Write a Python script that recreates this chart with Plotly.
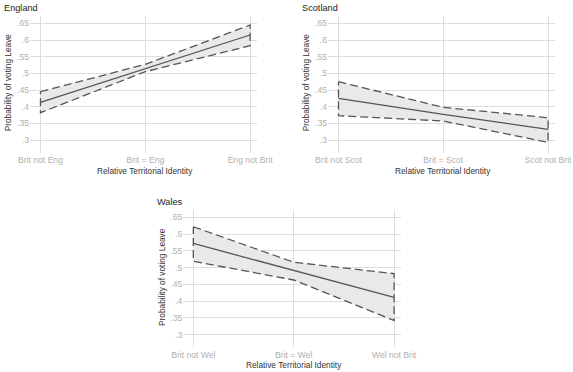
import plotly.graph_objects as go

# ---- data ----
eng_cats = ["Brit not Eng", "Brit = Eng", "Eng not Brit"]
eng_mean = [0.413, 0.515, 0.615]
eng_upper = [0.445, 0.527, 0.645]
eng_lower = [0.382, 0.505, 0.583]

sco_cats = ["Brit not Scot", "Brit = Scot", "Scot not Brit"]
sco_mean = [0.425, 0.377, 0.332]
sco_upper = [0.475, 0.398, 0.367]
sco_lower = [0.373, 0.357, 0.293]

wal_cats = ["Brit not Wel", "Brit = Wel", "Wel not Brit"]
wal_mean = [0.572, 0.492, 0.411]
wal_upper = [0.622, 0.516, 0.482]
wal_lower = [0.519, 0.463, 0.342]

y_tickvals = [0.3, 0.35, 0.4, 0.45, 0.5, 0.55, 0.6, 0.65]
y_ticktext = [".3", ".35", ".4", ".45", ".5", ".55", ".6", ".65"]

panel_titles = ["England", "Scotland", "Wales"]
x_title = "Relative Territorial Identity"
y_title = "Probability of voting Leave"

FONT = "Liberation Sans, Arial, Helvetica, sans-serif"
W, H = 573, 372

panels = [
    dict(cats=eng_cats, mean=eng_mean, up=eng_upper, lo=eng_lower,
         x0=30, x1=257, y0=16, y1=152.7),
    dict(cats=sco_cats, mean=sco_mean, up=sco_upper, lo=sco_lower,
         x0=328, x1=555, y0=16, y1=152.7),
    dict(cats=wal_cats, mean=wal_mean, up=wal_upper, lo=wal_lower,
         x0=183.3, x1=400.7, y0=210, y1=347.3),
]

fig = go.Figure()
layout = dict(
    template="none",
    width=W, height=H, margin=dict(l=0, r=0, t=0, b=0, pad=0),
    paper_bgcolor="white", plot_bgcolor="white", showlegend=False,
    font=dict(family=FONT),
)
annotations = []

for i, p in enumerate(panels):
    sfx = "" if i == 0 else str(i + 1)
    xa, ya = "x" + sfx, "y" + sfx
    xs = list(range(len(p["cats"])))
    # CI band outline (closed, dashed) with fill
    bx = xs + xs[::-1] + [xs[0]]
    by = p["up"] + p["lo"][::-1] + [p["up"][0]]
    fig.add_trace(go.Scatter(
        x=bx, y=by, xaxis=xa, yaxis=ya, mode="lines", fill="toself",
        fillcolor="#e9e9e9",
        line=dict(color="#555555", width=1.3, dash="8px,4px"),
        hoverinfo="skip"))
    fig.add_trace(go.Scatter(
        x=xs, y=p["mean"], xaxis=xa, yaxis=ya, mode="lines",
        line=dict(color="#555555", width=1.3)))

    dx = [p["x0"] / W, p["x1"] / W]
    dy = [1 - p["y1"] / H, 1 - p["y0"] / H]
    layout["xaxis" + sfx] = dict(
        domain=dx, range=[-0.1, 2.066], anchor=ya, automargin=False,
        tickvals=xs, ticktext=p["cats"], showgrid=True,
        gridcolor="#dddddd", gridwidth=1, zeroline=False, showline=False,
        ticks="", ticklen=0, ticklabeloverflow="allow", ticklabelstandoff=1,
        tickfont=dict(size=8.6, color="#b0b0b0", family=FONT),
        fixedrange=True)
    layout["yaxis" + sfx] = dict(
        domain=dy, range=[0.262, 0.672], anchor=xa, automargin=False,
        tickvals=y_tickvals, ticktext=y_ticktext, showgrid=True,
        gridcolor="#dddddd", gridwidth=1, zeroline=False, showline=False,
        ticks="", ticklen=0, ticklabeloverflow="allow",
        tickfont=dict(size=8.6, color="#b0b0b0", family=FONT),
        fixedrange=True)

    # panel title
    annotations.append(dict(
        text=panel_titles[i], xref="paper", yref="paper",
        x=(p["x0"] - 28) / W, y=1 - (p["y0"] - 8) / H,
        xanchor="left", yanchor="middle", showarrow=False,
        font=dict(size=9.2, color="#222222", family=FONT)))
    # x title
    annotations.append(dict(
        text=x_title, xref="paper", yref="paper",
        x=(p["x0"] + 10 + (p["x1"] - 7 - p["x0"] - 10) / 2) / W,
        y=1 - (p["y1"] + 18) / H,
        xanchor="center", yanchor="middle", showarrow=False,
        font=dict(size=8.3, color="#333333", family=FONT)))
    # y title
    annotations.append(dict(
        text=y_title, xref="paper", yref="paper",
        x=(p["x0"] - 22) / W, y=1 - ((p["y0"] + p["y1"]) / 2 - 2) / H,
        xanchor="center", yanchor="middle", showarrow=False, textangle=-90,
        font=dict(size=8.3, color="#333333", family=FONT)))

layout["annotations"] = annotations
fig.update_layout(**layout)
fig.write_html(
    "out.html",
    config={"displayModeBar": False},
    post_script="document.body.style.margin='0px';document.body.style.padding='0px';",
)
